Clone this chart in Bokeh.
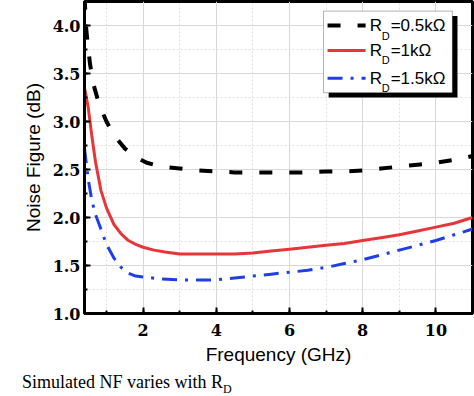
from bokeh.plotting import figure
from bokeh.models import (SingleIntervalTicker, PrintfTickFormatter, BoxAnnotation,
                          Label, Arrow, Div)
from bokeh.layouts import column
from bokeh.embed import file_html
from bokeh.resources import INLINE

# ---- data ----
freq_05k = [0.4, 0.45, 0.55, 0.65, 0.8, 1.0, 1.2, 1.5, 1.8, 2.1, 2.5, 3.0, 3.5, 4.0,
            4.5, 5.0, 5.5, 6.0, 6.5, 7.0, 7.5, 8.0, 8.5, 9.0, 9.5, 10.0, 10.5, 11.0]
nf_05k = [4.3, 3.95, 3.6, 3.38, 3.18, 3.0, 2.86, 2.72, 2.63, 2.57, 2.53, 2.51, 2.49, 2.48,
          2.47, 2.47, 2.47, 2.47, 2.47, 2.48, 2.48, 2.49, 2.51, 2.53, 2.55, 2.57, 2.60, 2.64]

freq_1k = [0.4, 0.5, 0.6, 0.7, 0.85, 1.0, 1.2, 1.4, 1.6, 1.8, 2.0, 2.3, 2.6, 3.0, 3.5,
           4.0, 4.5, 5.0, 5.5, 6.0, 6.5, 7.0, 7.5, 8.0, 8.5, 9.0, 9.5, 10.0, 10.5, 11.0]
nf_1k = [3.35, 3.15, 2.85, 2.58, 2.28, 2.1, 1.93, 1.83, 1.76, 1.72, 1.69, 1.66, 1.64, 1.62, 1.62,
         1.62, 1.62, 1.63, 1.65, 1.67, 1.69, 1.71, 1.73, 1.76, 1.79, 1.82, 1.86, 1.90, 1.94, 2.0]

freq_15k = [0.4, 0.5, 0.6, 0.7, 0.8, 1.0, 1.2, 1.4, 1.6, 1.8, 2.0, 2.5, 3.0, 3.5, 4.0,
            4.5, 5.0, 5.5, 6.0, 6.5, 7.0, 7.5, 8.0, 8.5, 9.0, 9.5, 10.0, 10.5, 11.0]
nf_15k = [2.72, 2.4, 2.18, 2.03, 1.93, 1.72, 1.58, 1.48, 1.42, 1.39, 1.38, 1.36, 1.35, 1.35, 1.35,
          1.37, 1.39, 1.41, 1.43, 1.45, 1.48, 1.52, 1.56, 1.61, 1.66, 1.71, 1.76, 1.82, 1.88]

legend_labels = ["=0.5kΩ", "=1kΩ", "=1.5kΩ"]
x_title = "Frequency (GHz)"
y_title = "Noise Figure (dB)"
caption_html = "Simulated NF varies with R<sub style='font-size:12px;line-height:0'>D</sub>"

# ---- styles ----
series = [
    (freq_05k, nf_05k, "black", 4, "13 17"),
    (freq_1k, nf_1k, "#e8353a", 3, "solid"),
    (freq_15k, nf_15k, "#1f3fe6", 3, "15 8 3 8"),
]

p = figure(width=474, height=373, x_range=(0.4, 11.0), y_range=(1.0, 4.25),
           output_backend="svg", toolbar_location=None,
           min_border_left=84, min_border_right=2, min_border_top=1, min_border_bottom=60)
p.background_fill_color = "white"
p.outline_line_color = "black"
p.outline_line_width = 3

for xs, ys, c, w, d in series:
    p.line(xs, ys, line_color=c, line_width=w, line_dash=d)

p.xaxis.ticker = SingleIntervalTicker(interval=2, num_minor_ticks=2)
p.yaxis.ticker = SingleIntervalTicker(interval=0.5, num_minor_ticks=2)
p.yaxis.formatter = PrintfTickFormatter(format="%.1f")

for ax in (p.xaxis[0], p.yaxis[0]):
    ax.axis_line_width = 3
    ax.axis_line_color = "black"
    ax.major_tick_in = 6
    ax.major_tick_out = 0
    ax.minor_tick_in = 3
    ax.minor_tick_out = 0
    ax.major_tick_line_width = 2
    ax.minor_tick_line_width = 2
    ax.major_label_text_font = "DejaVu Serif"
    ax.major_label_text_font_style = "bold"
    ax.major_label_text_font_size = "16px"
    ax.major_label_text_color = "black"
    ax.axis_label_text_font = "Liberation Sans"
    ax.axis_label_text_font_style = "normal"
    ax.axis_label_text_font_size = "19px"
    ax.axis_label_text_color = "black"

p.xaxis.axis_label = x_title
p.yaxis.axis_label = y_title
p.xaxis.major_label_standoff = 10
p.xaxis.axis_label_standoff = 5
p.yaxis.major_label_standoff = 4
p.yaxis.axis_label_standoff = 6

for g in (p.xgrid[0], p.ygrid[0]):
    g.grid_line_color = "#d8d8d8"
    g.grid_line_width = 1
    g.minor_grid_line_color = "#e0e0e0"
    g.minor_grid_line_dash = "2 2"

# ---- legend (drawn by hand for the subscript) ----
p.add_layout(BoxAnnotation(left=7.07, right=10.59, top=4.10, bottom=3.25,
                           fill_color="black", fill_alpha=1, line_alpha=0))
p.add_layout(BoxAnnotation(left=6.93, right=10.45, top=4.15, bottom=3.30,
                           fill_color="white", fill_alpha=1, line_color="black",
                           line_width=1))
rows_y = [4.0, 3.74, 3.45]
for (xs, ys, c, w, d), lab, ry in zip(series, legend_labels, rows_y):
    p.add_layout(Arrow(x_start=7.04, y_start=ry, x_end=8.08, y_end=ry, end=None,
                       line_color=c, line_width=w, line_dash=d))
    p.add_layout(Label(x=8.19, y=ry, text="R", text_font="Liberation Sans",
                       text_font_size="17px", text_baseline="middle", text_color="black"))
    p.add_layout(Label(x=8.19, y=ry, x_offset=12, y_offset=-10, text="D",
                       text_font="Liberation Sans", text_font_size="11px",
                       text_baseline="middle", text_color="black"))
    p.add_layout(Label(x=8.19, y=ry, x_offset=21, text=lab, text_font="Liberation Sans",
                       text_font_size="17px", text_baseline="middle", text_color="black"))

# ---- caption ----
cap = Div(text=caption_html, width=474, height=23, margin=(0, 0, 0, 0),
          styles={"font-family": "'Liberation Serif'", "font-size": "18px",
                  "line-height": "18px", "padding-left": "22px",
                  "color": "black", "white-space": "nowrap"})

layout = column(p, cap, spacing=0)
open("out.html", "w").write(file_html(layout, INLINE))
